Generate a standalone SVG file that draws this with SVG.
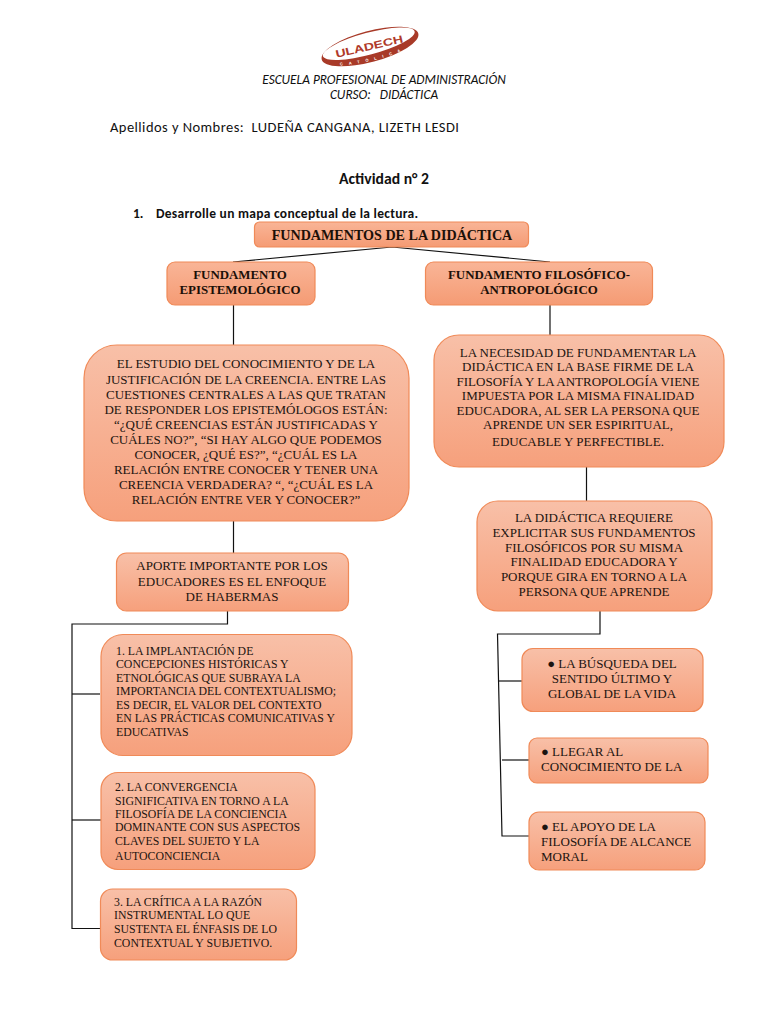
<svg xmlns="http://www.w3.org/2000/svg" width="768" height="1024" viewBox="0 0 768 1024">
<style>
.n{fill:url(#g);stroke:#f08a58;stroke-width:1.2}
.h{fill:url(#h);stroke:#f08a58;stroke-width:1.2}
.t{font-family:"Liberation Serif",serif;font-size:13px;fill:#1c1410}
.u{font-size:11.8px}
.c{text-anchor:middle}
.b{font-family:"Liberation Serif",serif;font-weight:bold;fill:#1c1008;text-anchor:middle;font-size:12.9px}
.s{font-family:Carlito,"Open Sans","Liberation Sans",sans-serif;fill:#111}
.l{fill:none;stroke:#111;stroke-width:1.2}
</style>
<defs>
<linearGradient id="g" x1="0" y1="0" x2="0" y2="1"><stop offset="0" stop-color="#f8c0a8"/><stop offset="1" stop-color="#f6a07c"/></linearGradient>
<linearGradient id="h" x1="0" y1="0" x2="0" y2="1"><stop offset="0" stop-color="#f9b597"/><stop offset="1" stop-color="#f59b74"/></linearGradient>
<path id="arc" d="M340 65.500 Q382 62 415 45"/>
</defs>
<rect width="768" height="1024" fill="#fff"/>
<g id="logo">
<g transform="rotate(-15 370 46.500)">
<ellipse cx="370" cy="46.500" rx="50" ry="15.500" fill="#a83a28"/>
<ellipse cx="369.500" cy="43.500" rx="47.500" ry="11" fill="#fff"/>
</g>
<text x="370" y="50" text-anchor="middle" font-family="Liberation Sans,sans-serif" font-weight="bold" font-size="10.500" fill="#b03a2a" transform="rotate(-13 370 50)" textLength="69" lengthAdjust="spacingAndGlyphs">ULADECH</text>
<text font-family="Liberation Sans,sans-serif" font-weight="bold" font-size="4" fill="#fff" letter-spacing="6"><textPath href="#arc">CATÓLICA</textPath></text>
</g>
<g id="header">
<text class="s" x="384" y="84" text-anchor="middle" font-size="13.300" font-style="italic">ESCUELA PROFESIONAL DE ADMINISTRACIÓN</text>
<text class="s" x="384" y="99" text-anchor="middle" font-size="13.300" font-style="italic" xml:space="preserve">CURSO:   DIDÁCTICA</text>
<text class="s" x="110" y="132" font-size="14.500" xml:space="preserve" textLength="349">Apellidos y Nombres:  LUDEÑA CANGANA, LIZETH LESDI</text>
<text class="s" x="384" y="184" text-anchor="middle" font-size="15.700" font-weight="bold">Actividad n° 2</text>
<text class="s" x="133" y="218" font-size="13.500" font-weight="bold">1.</text>
<text class="s" x="156" y="218" font-size="13.500" font-weight="bold" textLength="262">Desarrolle un mapa conceptual de la lectura.</text>
</g>
<g id="connectors">
<path class="l" d="M233 262L392 247L550 262"/>
<path class="l" d="M233.500 305V345"/>
<path class="l" d="M550 305V335"/>
<path class="l" d="M233.500 521V553"/>
<path class="l" d="M586.500 467V501"/>
<path class="l" d="M227.500 611V624H72V928.500H100"/>
<path class="l" d="M72 694H100"/>
<path class="l" d="M72 820H101"/>
<path class="l" d="M600 611V634H497.500L502 836H529"/>
<path class="l" d="M498 681H522"/>
<path class="l" d="M502 760H529"/>
</g>
<g id="n0"><rect class="h" x="254.500" y="222" width="274" height="25" rx="5"/>
<text class="b" x="392" y="240" style="font-size:14.100px">FUNDAMENTOS DE LA DIDÁCTICA</text></g>
<g id="n1"><rect class="h" x="167" y="262" width="148" height="43" rx="8"/>
<text class="b" x="240" y="279">FUNDAMENTO</text><text class="b" x="240" y="294">EPISTEMOLÓGICO</text></g>
<g id="n2"><rect class="h" x="425.500" y="262" width="227" height="43" rx="8"/>
<text class="b" x="539" y="279">FUNDAMENTO FILOSÓFICO-</text><text class="b" x="539" y="294">ANTROPOLÓGICO</text></g>
<g id="n3"><rect class="n" x="84" y="345" width="325" height="176" rx="33"/>
<g class="t c">
<text x="246" y="368">EL ESTUDIO DEL CONOCIMIENTO Y DE LA</text>
<text x="246" y="384">JUSTIFICACIÓN DE LA CREENCIA. ENTRE LAS</text>
<text x="246" y="399">CUESTIONES CENTRALES A LAS QUE TRATAN</text>
<text x="246" y="414">DE RESPONDER LOS EPISTEMÓLOGOS ESTÁN:</text>
<text x="246" y="429">“¿QUÉ CREENCIAS ESTÁN JUSTIFICADAS Y</text>
<text x="246" y="444">CUÁLES NO?”, “SI HAY ALGO QUE PODEMOS</text>
<text x="246" y="459">CONOCER, ¿QUÉ ES?”, “¿CUÁL ES LA</text>
<text x="246" y="474">RELACIÓN ENTRE CONOCER Y TENER UNA</text>
<text x="246" y="489">CREENCIA VERDADERA? “, “¿CUÁL ES LA</text>
<text x="246" y="504">RELACIÓN ENTRE VER Y CONOCER?”</text>
</g></g>
<g id="n4"><rect class="n" x="434" y="335" width="290" height="132" rx="25"/>
<g class="t c">
<text x="578" y="356.500">LA NECESIDAD DE FUNDAMENTAR LA</text>
<text x="578" y="371">DIDÁCTICA EN LA BASE FIRME DE LA</text>
<text x="578" y="386">FILOSOFÍA Y LA ANTROPOLOGÍA VIENE</text>
<text x="578" y="400">IMPUESTA POR LA MISMA FINALIDAD</text>
<text x="578" y="415">EDUCADORA, AL SER LA PERSONA QUE</text>
<text x="578" y="429">APRENDE UN SER ESPIRITUAL,</text>
<text x="578" y="446">EDUCABLE Y PERFECTIBLE.</text>
</g></g>
<g id="n5"><rect class="n" x="477" y="501" width="235" height="110" rx="21"/>
<g class="t c">
<text x="594" y="522">LA DIDÁCTICA REQUIERE</text>
<text x="594" y="537">EXPLICITAR SUS FUNDAMENTOS</text>
<text x="594" y="552">FILOSÓFICOS POR SU MISMA</text>
<text x="594" y="566">FINALIDAD EDUCADORA Y</text>
<text x="594" y="581">PORQUE GIRA EN TORNO A LA</text>
<text x="594" y="596">PERSONA QUE APRENDE</text>
</g></g>
<g id="n6"><rect class="n" x="116.500" y="553" width="232" height="58" rx="10"/>
<g class="t c">
<text x="232" y="570">APORTE IMPORTANTE POR LOS</text>
<text x="232" y="586">EDUCADORES ES EL ENFOQUE</text>
<text x="232" y="601">DE HABERMAS</text>
</g></g>
<g id="n7"><rect class="n" x="101" y="634.500" width="251" height="121" rx="22"/>
<g class="t u">
<text x="116" y="655">1. LA IMPLANTACIÓN DE</text>
<text x="116" y="668">CONCEPCIONES HISTÓRICAS Y</text>
<text x="116" y="681.500">ETNOLÓGICAS QUE SUBRAYA LA</text>
<text x="116" y="695">IMPORTANCIA DEL CONTEXTUALISMO;</text>
<text x="116" y="709">ES DECIR, EL VALOR DEL CONTEXTO</text>
<text x="116" y="722">EN LAS PRÁCTICAS COMUNICATIVAS Y</text>
<text x="116" y="736">EDUCATIVAS</text>
</g></g>
<g id="n8"><rect class="n" x="101" y="772.500" width="214" height="97" rx="17"/>
<g class="t u">
<text x="115" y="791">2. LA CONVERGENCIA</text>
<text x="115" y="805">SIGNIFICATIVA EN TORNO A LA</text>
<text x="115" y="818">FILOSOFÍA DE LA CONCIENCIA</text>
<text x="115" y="831">DOMINANTE CON SUS ASPECTOS</text>
<text x="115" y="845">CLAVES DEL SUJETO Y LA</text>
<text x="115" y="860">AUTOCONCIENCIA</text>
</g></g>
<g id="n9"><rect class="n" x="100.500" y="889" width="196" height="71" rx="12"/>
<g class="t u">
<text x="114" y="906">3. LA CRÍTICA A LA RAZÓN</text>
<text x="114" y="919">INSTRUMENTAL LO QUE</text>
<text x="114" y="933">SUSTENTA EL ÉNFASIS DE LO</text>
<text x="114" y="947">CONTEXTUAL Y SUBJETIVO.</text>
</g></g>
<g id="n10"><rect class="n" x="522" y="648.500" width="181" height="63" rx="11"/>
<g class="t c">
<text x="612" y="668">● LA BÚSQUEDA DEL</text>
<text x="612" y="683">SENTIDO ÚLTIMO Y</text>
<text x="612" y="698">GLOBAL DE LA VIDA</text>
</g></g>
<g id="n11"><rect class="n" x="529" y="738" width="179" height="45" rx="8"/>
<g class="t">
<text x="541" y="756">● LLEGAR AL</text>
<text x="541" y="771">CONOCIMIENTO DE LA</text>
</g></g>
<g id="n12"><rect class="n" x="529" y="812" width="176" height="58" rx="10"/>
<g class="t">
<text x="541" y="831">● EL APOYO DE LA</text>
<text x="541" y="846">FILOSOFÍA DE ALCANCE</text>
<text x="541" y="861">MORAL</text>
</g></g>
</svg>
